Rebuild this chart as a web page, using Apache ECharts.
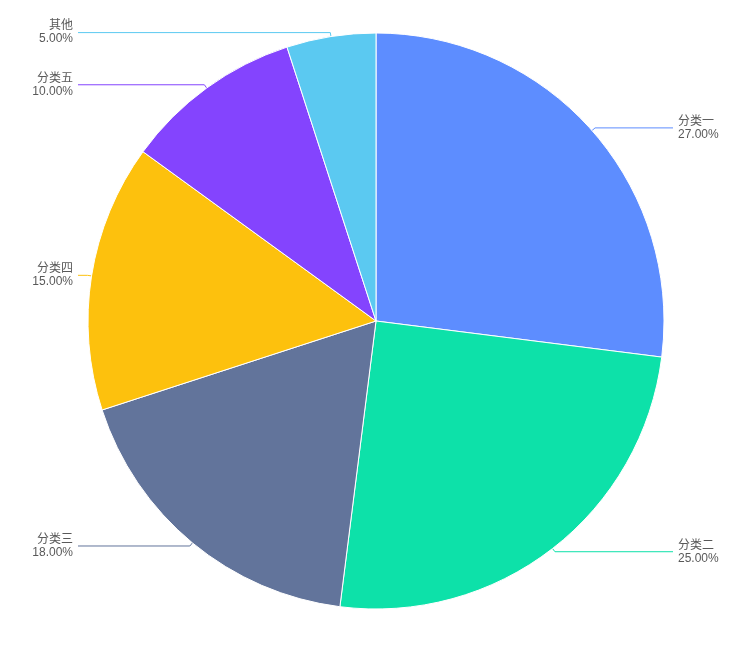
<!DOCTYPE html>
<html><head><meta charset="utf-8">
<script src="https://cdn.jsdelivr.net/npm/echarts@6/dist/echarts.min.js"></script>
<style>html,body{margin:0;padding:0;background:#fff}#c{width:734px;height:656px}</style>
</head><body><div id="c"></div>
<script>
var categories = ['分类一', '分类二', '分类三', '分类四', '分类五', '其他'];
var values = [27, 25, 18, 15, 10, 5];
var colors = ['#5d8dff', '#0de1a9', '#62749b', '#fdc10d', '#8444fe', '#5bc9f1'];

var total = values.reduce(function (a, b) { return a + b; }, 0);
function isLeft(idx) {
  var cum = 0;
  for (var i = 0; i < idx; i++) cum += values[i];
  var mid = (cum + values[idx] / 2) / total;
  return mid > 0.5;
}
var chart = echarts.init(document.getElementById('c'), null, {renderer: 'canvas'});
chart.setOption({
  animation: false,
  color: colors,
  series: [{
    type: 'pie',
    left: 17, top: 0, width: 717, height: 656,
    center: [359, 321],
    radius: 288,
    startAngle: 90,
    clockwise: true,
    avoidLabelOverlap: true,
    itemStyle: {borderColor: '#fff', borderWidth: 1},
    label: {
      show: true,
      position: 'outside',
      alignTo: 'edge',
      edgeDistance: 11,
      distanceToLabelLine: 5,
      width: 45,
      fontFamily: 'Liberation Sans, Arial, Noto Sans CJK SC, sans-serif',
      fontSize: 12,
      color: '#595959',
      lineHeight: 13,
      formatter: function (p) {
        var s = isLeft(p.dataIndex) ? 'l' : 'r';
        var pct = (values[p.dataIndex] / total * 100).toFixed(2) + '%';
        return '{' + s + '|' + p.name + '}\n{' + s + '|' + pct + '}';
      },
      rich: {
        l: {align: 'right', fontSize: 12, lineHeight: 13, color: '#595959'},
        r: {align: 'left', fontSize: 12, lineHeight: 13, color: '#595959'}
      }
    },
    labelLine: {show: true, length: 4, length2: 10, lineStyle: {width: 1}},
    data: categories.map(function (c, i) { return {name: c, value: values[i]}; })
  }]
});
</script>
</body></html>
